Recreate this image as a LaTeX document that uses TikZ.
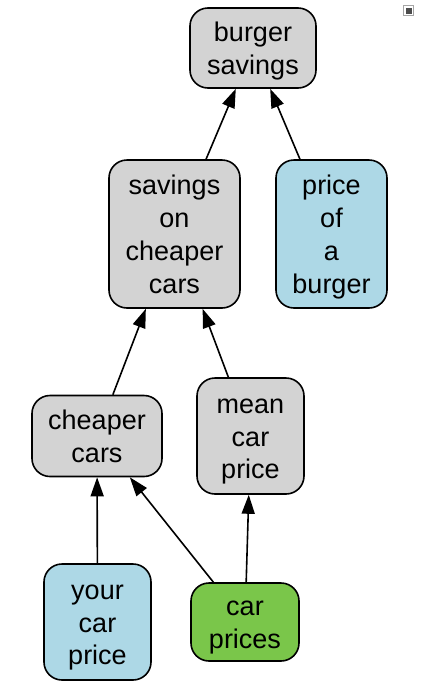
\documentclass[tikz,border=0pt]{standalone}
\usepackage{fontspec}
\setmainfont{Liberation Sans}
\usetikzlibrary{arrows.meta}
\definecolor{ngray}{RGB}{211,211,211}
\definecolor{nblue}{RGB}{173,216,230}
\definecolor{ngreen}{RGB}{122,198,74}
\newcommand{\topstrut}{\rule{0pt}{26pt}}
\newcommand{\botstrut}{\rule[-6pt]{0pt}{6pt}}
\begin{document}
\begin{tikzpicture}[x=1pt,y=-1pt,
  box/.style={draw=black,line width=1.6pt,rounded corners=18pt,align=center,inner sep=0pt,
    font=\fontsize{27}{32.7}\selectfont},
  gbox/.style={box,fill=ngray},
  bbox/.style={box,fill=nblue},
  grbox/.style={box,fill=ngreen},
  edge/.style={line width=1.6pt,-{Triangle[length=19pt,width=13pt]}}]
\useasboundingbox (0,0) rectangle (421,694);
\fill[white] (0,0) rectangle (421,694);
% small icon
\draw[draw=gray!70,fill=white,line width=0.6pt] (403.5,5.5) rectangle (413.5,15.5);
\fill[black!70] (405.5,7.5) rectangle (411.5,13.5);

\node[gbox,minimum width=126pt,minimum height=80pt] (bs) at (253,48) {\topstrut burger\\savings\botstrut};
\node[gbox,minimum width=131pt,minimum height=148pt] (soc) at (174.5,234) {\topstrut savings\\on\\cheaper\\cars\botstrut};
\node[bbox,minimum width=111pt,minimum height=148pt] (pob) at (331.5,234) {\topstrut price\\of\\a\\burger\botstrut};
\node[gbox,minimum width=130pt,minimum height=81pt] (cc) at (97,436) {\topstrut cheaper\\cars\botstrut};
\node[gbox,minimum width=107pt,minimum height=116pt] (mcp) at (250.5,436) {\topstrut mean\\car\\price\botstrut};
\node[bbox,minimum width=107pt,minimum height=116pt] (ycp) at (97.5,622) {\topstrut your\\car\\price\botstrut};
\node[grbox,minimum width=108pt,minimum height=78pt] (cp) at (245,622) {\topstrut car\\prices\botstrut};

\draw[edge] (soc) -- (bs);
\draw[edge] (pob) -- (bs);
\draw[edge] (cc) -- (soc);
\draw[edge] (mcp) -- (soc);
\draw[edge] (ycp) -- (cc);
\draw[edge] (cp) -- (cc);
\draw[edge] (cp) -- (mcp);
\end{tikzpicture}
\end{document}
